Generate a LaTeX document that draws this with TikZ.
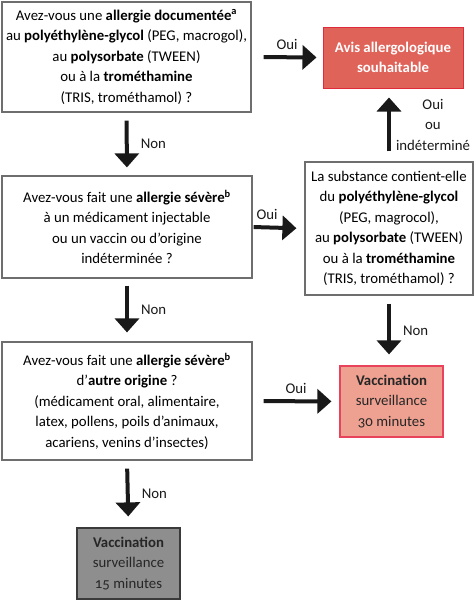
\documentclass[tikz,border=0pt]{standalone}
\usepackage{fontspec}
\setmainfont{Carlito}[Numbers=OldStyle]
\usepackage{xcolor}
\usetikzlibrary{positioning, arrows.meta}

\definecolor{cadregris}{HTML}{6E6E6E}
\definecolor{avisfond}{HTML}{E0635A}
\definecolor{avistrait}{HTML}{E02B3A}
\definecolor{vacfond}{HTML}{EEA191}
\definecolor{vactrait}{HTML}{E8435A}
\definecolor{grisfond}{HTML}{8E8E8E}
\definecolor{gristrait}{HTML}{3A3A3A}

\begin{document}
\begin{tikzpicture}[x=1pt, y=-1pt]

\tikzset{
    txt/.style={font=\fontsize{14.8}{20.5}\selectfont, align=center, inner sep=0pt},
    question/.style={txt, draw=cadregris, line width=1.2pt, fill=white},
    avisbox/.style={txt, draw=avistrait, line width=1pt, fill=avisfond, text=white,
        minimum width=140, minimum height=61},
    vacbox/.style={txt, draw=vactrait, line width=1.2pt, fill=vacfond, text=black!85,
        minimum width=103, minimum height=71},
    grisbox/.style={txt, draw=gristrait, line width=1.2pt, fill=grisfond, text=black!85,
        minimum width=103, minimum height=71},
    flow/.style={line width=4pt, black!90, -{Triangle[width=24pt, length=14pt]}},
    lbl/.style={txt, text=black!90, inner sep=1pt}
}

\useasboundingbox (0,0) rectangle (475,600);

%====================================================
% LEFT: questions
%====================================================
\node[question, minimum width=249, minimum height=110] (q1) at (126.5,57)
    {Avez-vous une \textbf{allergie documentée}\textbf{\textsuperscript{a}}\\
     au \textbf{polyéthylène-glycol} (PEG, macrogol),\\
     au \textbf{polysorbate} (TWEEN)\\
     ou à la \textbf{trométhamine}\\
     (TRIS, trométhamol) ?};

\node[question, minimum width=250, minimum height=102] (q2) at (127,227)
    {Avez-vous fait une \textbf{allergie sévère}\textbf{\textsuperscript{b}}\\
     à un médicament injectable\\
     ou un vaccin ou d’origine\\
     indéterminée ?};

\node[question, minimum width=250, minimum height=118] (q3) at (127,401)
    {Avez-vous fait une \textbf{allergie sévère}\textbf{\textsuperscript{b}}\\
     d’\textbf{autre origine} ?\\
     (médicament oral, alimentaire,\\
     latex, pollens, poils d’animaux,\\
     acariens, venins d’insectes)};

\node[grisbox] (vac15) at (128.5,563.5)
    {\textbf{Vaccination}\\ surveillance\\ 15 minutes};

%====================================================
% RIGHT: substance and outcomes
%====================================================
\node[avisbox] (avis) at (393,57.5)
    {\textbf{Avis allergologique}\\ \textbf{souhaitable}};

\node[question, minimum width=168, minimum height=133] (q4) at (389,228.5)
    {La substance contient-elle\\
     du \textbf{polyéthylène-glycol}\\
     (PEG, magrocol),\\
     au \textbf{polysorbate} (TWEEN)\\
     ou à la \textbf{trométhamine}\\
     (TRIS, trométhamol) ?};

\node[vacbox] (vac30) at (391.5,401.5)
    {\textbf{Vaccination}\\ surveillance\\ 30 minutes};

%====================================================
% ARROWS
%====================================================
\draw[flow, shorten <=12pt, shorten >=6pt] (q1.east) -- (avis.west)
    node[lbl, midway, above=5pt] {Oui};
\draw[flow, shorten <=8pt, shorten >=8pt] (q1.south) -- (q2.north)
    node[lbl, midway, right=11pt] {Non};

\draw[flow, shorten <=1pt, shorten >=8pt] (q2.east) -- (q4.west)
    node[lbl, pos=0, above right=4pt and 1pt] {Oui};
\draw[flow, shorten <=7pt, shorten >=9pt] (q2.south) -- (q3.north)
    node[lbl, midway, right=11pt] {Non};

\draw[flow, shorten <=11pt, shorten >=8pt] (q3.east) -- (vac30.west)
    node[lbl, midway, above=5pt] {Oui};
\draw[flow, shorten <=8pt, shorten >=11pt] (q3.south) -- (vac15.north)
    node[lbl, midway, right=11pt] {Non};

\draw[flow, shorten <=10pt, shorten >=9pt] (q4.north) -- (q4.north |- avis.south)
    node[lbl, midway, right=4pt] {Oui\\ ou\\ indéterminé};
\draw[flow, shorten <=8pt, shorten >=11pt] (q4.south) -- (q4.south |- vac30.north)
    node[lbl, midway, right=11pt] {Non};

\end{tikzpicture}
\end{document}
